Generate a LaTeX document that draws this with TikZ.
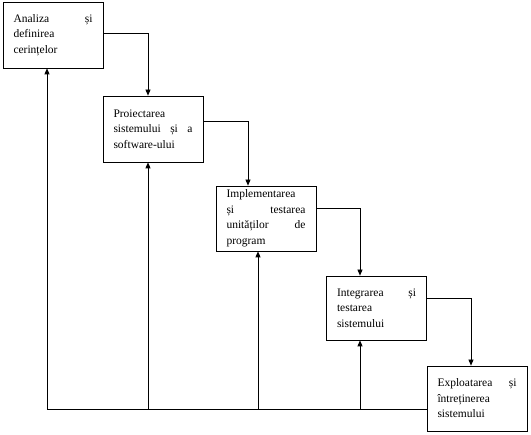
\documentclass[tikz,border=0pt]{standalone}
\usepackage{fontspec}
\setmainfont{Liberation Serif}
\usepackage{tikz}
\usetikzlibrary{arrows.meta}

\tikzset{
  etapa/.style={draw, line width=0.7pt, minimum width=100pt, minimum height=66pt,
    text width=79pt, align=left, inner sep=0pt,
    font=\fontsize{11.5pt}{15.5pt}\selectfont},
  sageata/.style={line width=0.7pt, -{Triangle[length=6pt,width=5pt]}},
  linie/.style={line width=0.7pt}
}

\begin{document}
\begin{tikzpicture}[x=1pt,y=1pt]
\useasboundingbox (0,0) rectangle (531,435);

%% boxes
\node[etapa] (analiza) at (53,400) {Analiza \hfill și\\definirea\\cerințelor};                        %% 1
\node[etapa] (proiectare) at (153,306) {Proiectarea\\sistemului \hfill și \hfill a\\software-ului};    %% 2
\node[etapa, minimum height=65pt] (implementare) at (266,216.5) {Implementarea\\și \hfill testarea\\unităților \hfill de\\program}; %% 3
\node[etapa, minimum height=64pt] (integrare) at (376.5,127) {Integrarea \hfill și\\testarea\\sistemului\\[4pt]}; %% 4
\node[etapa, minimum height=65pt] (exploatare) at (477,36.5) {Exploatarea \hfill și\\întreținerea\\sistemului}; %% 5

%% arrows down
\draw[sageata] ([yshift=2pt]analiza.east) -| ([xshift=-5pt]proiectare.north);          %% 1-2
\draw[sageata] ([yshift=8pt]proiectare.east) -| ([xshift=-18pt]implementare.north);     %% 2-3
\draw[sageata] ([yshift=10pt]implementare.east) -| ([xshift=-16.5pt]integrare.north);   %% 3-4
\draw[sageata] ([yshift=10pt]integrare.east) -| ([xshift=-6pt]exploatare.north);        %% 4-5

%% arrows back
\coordinate (retur) at ([yshift=-10.5pt]exploatare.west);
\draw[sageata] (retur) -| ([xshift=-6pt]analiza.south);                                 %% 5-1
\draw[sageata] ([xshift=-5pt]proiectare.south |- retur) -- ([xshift=-5pt]proiectare.south);       %% 2
\draw[sageata] ([xshift=-8pt]implementare.south |- retur) -- ([xshift=-8pt]implementare.south);   %% 3
\draw[sageata] ([xshift=-16.5pt]integrare.south |- retur) -- ([xshift=-16.5pt]integrare.south);   %% 4
\end{tikzpicture}
\end{document}
